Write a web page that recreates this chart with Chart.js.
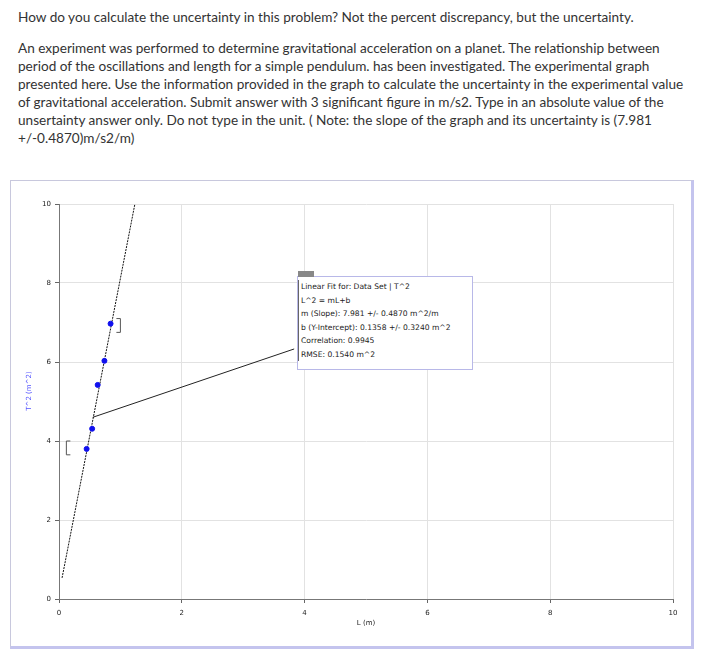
<!DOCTYPE html>
<html>
<head>
<meta charset="utf-8">
<script src="https://cdn.jsdelivr.net/npm/chart.js@4/dist/chart.umd.min.js"></script>
<style>
  body { margin: 0; background: #fff; font-family: Lato, "Open Sans", sans-serif; color: #333; }
  .q { position: absolute; left: 18px; width: 668px; font-size: 13.6px; line-height: 18px; }
  #wrap { position: absolute; left: 10px; top: 180px; width: 680px; height: 465px;
          border: 1px solid #c8c8dd; border-right: 3px solid #c4c4ee; border-bottom: 3px solid #c4c4ee; }
  #note { position: absolute; left: 286px; top: 95px; width: 174px; height: 92px;
          border: 1px solid #b8b8e8; background: #fff; font-family: "DejaVu Sans", sans-serif;
          font-size: 7.6px; color: #222; }
  #note div.l { height: 13.5px; line-height: 13.5px; padding-left: 2px; border-left: 1px solid #666; }
  #note .hdr { position: absolute; left: 0; top: -6px; width: 16px; height: 6px; background: #888; }
</style>
</head>
<body>
<div class="q" style="top:8px">How do you calculate the uncertainty in this problem? Not the percent discrepancy, but the uncertainty.</div>
<div class="q" style="top:39px">An experiment was performed to determine gravitational acceleration on a planet. The relationship between period of the oscillations and length for a simple pendulum. has been investigated. The experimental graph presented here. Use the information provided in the graph to calculate the uncertainty in the experimental value of gravitational acceleration. Submit answer with 3 significant figure in m/s2. Type in an absolute value of the unsertainty answer only. Do not type in the unit. ( Note: the slope of the graph and its uncertainty is (7.981 +/-0.4870)m/s2/m)</div>
<div id="wrap">
  <canvas id="c" width="680" height="465"></canvas>
  <div id="note">
    <div class="hdr"></div>
    <div class="l" style="margin-top:3px">Linear Fit for: Data Set | T^2</div>
    <div class="l">L^2 = mL+b</div>
    <div class="l">m (Slope): 7.981 +/- 0.4870 m^2/m</div>
    <div class="l">b (Y-Intercept): 0.1358 +/- 0.3240 m^2</div>
    <div class="l">Correlation: 0.9945</div>
    <div class="l">RMSE: 0.1540 m^2</div>
  </div>
</div>
<script>
// --- DATA ---
const lengthL = [0.45, 0.54, 0.63, 0.74, 0.84];
const periodSq = [3.80, 4.31, 5.42, 6.03, 6.97];
const fitSlope = 7.981;
const fitIntercept = 0.1358;
const fitRange = [0.05, 1.236];
const leaderLine = [{ x: 0.55, y: 4.6 }, { x: 3.83, y: 6.33 }];
const xTicks = [0, 2, 4, 6, 8, 10];

const fitPoints = fitRange.map(x => ({ x: x, y: fitSlope * x + fitIntercept }));

// small brackets + axis titles
const extras = {
    id: 'extras',
    afterDraw(chart) {
        const { ctx, scales: { x, y } } = chart;
        ctx.save();
        ctx.strokeStyle = '#555';
        ctx.lineWidth = 1;
        // right bracket near top point
        let bx = x.getPixelForValue(1.0), y1 = y.getPixelForValue(7.1), y2 = y.getPixelForValue(6.75);
        ctx.beginPath(); ctx.moveTo(bx - 4, y1); ctx.lineTo(bx, y1); ctx.lineTo(bx, y2); ctx.lineTo(bx - 4, y2); ctx.stroke();
        // left bracket near y=4
        bx = x.getPixelForValue(0.12); y1 = y.getPixelForValue(4.0); y2 = y.getPixelForValue(3.65);
        ctx.beginPath(); ctx.moveTo(bx + 4, y1); ctx.lineTo(bx, y1); ctx.lineTo(bx, y2); ctx.lineTo(bx + 4, y2); ctx.stroke();
        // axis titles
        ctx.font = '7px "DejaVu Sans"';
        ctx.fillStyle = '#222';
        ctx.textAlign = 'center';
        ctx.fillText('L (m)', (x.left + x.right) / 2, 444);
        ctx.fillStyle = '#5555ff';
        ctx.translate(20, 210);
        ctx.rotate(-Math.PI / 2);
        ctx.fillText('T^2 (m^2)', 0, 0);
        ctx.restore();
    }
};

new Chart(document.getElementById('c'), {
    type: 'scatter',
    data: {
        datasets: [
            { data: lengthL.map((v, i) => ({ x: v, y: periodSq[i] })), backgroundColor: '#1010ee',
              borderColor: '#1010ee', pointRadius: 2.5 },
            { type: 'line', data: fitPoints, borderColor: '#111', borderWidth: 1, borderDash: [2, 1],
              pointRadius: 0, fill: false },
            { type: 'line', data: leaderLine, borderColor: '#222', borderWidth: 1,
              pointRadius: 0, fill: false }
        ]
    },
    options: {
        responsive: false,
        animation: false,
        layout: { padding: { left: 10, right: 18, top: 23, bottom: 0 } },
        plugins: { legend: { display: false }, tooltip: { enabled: false } },
        scales: {
            x: {
                type: 'linear', min: 0, max: 10,
                afterBuildTicks: a => { a.ticks = xTicks.map(v => ({ value: v })); },
                afterFit: a => { a.height = 47; },
                grid: { color: '#e2e2e2', tickColor: '#666', tickLength: 4 },
                border: { color: '#777' },
                ticks: { font: { size: 7, family: 'DejaVu Sans' }, color: '#222', padding: 6 }
            },
            y: {
                min: 0, max: 10,
                ticks: { stepSize: 2, font: { size: 7, family: 'DejaVu Sans' }, color: '#222', padding: 4 },
                afterFit: a => { a.width = 38; },
                grid: { color: '#e2e2e2', tickColor: '#666', tickLength: 4 },
                border: { color: '#777' }
            }
        }
    },
    plugins: [extras]
});
</script>
</body>
</html>
